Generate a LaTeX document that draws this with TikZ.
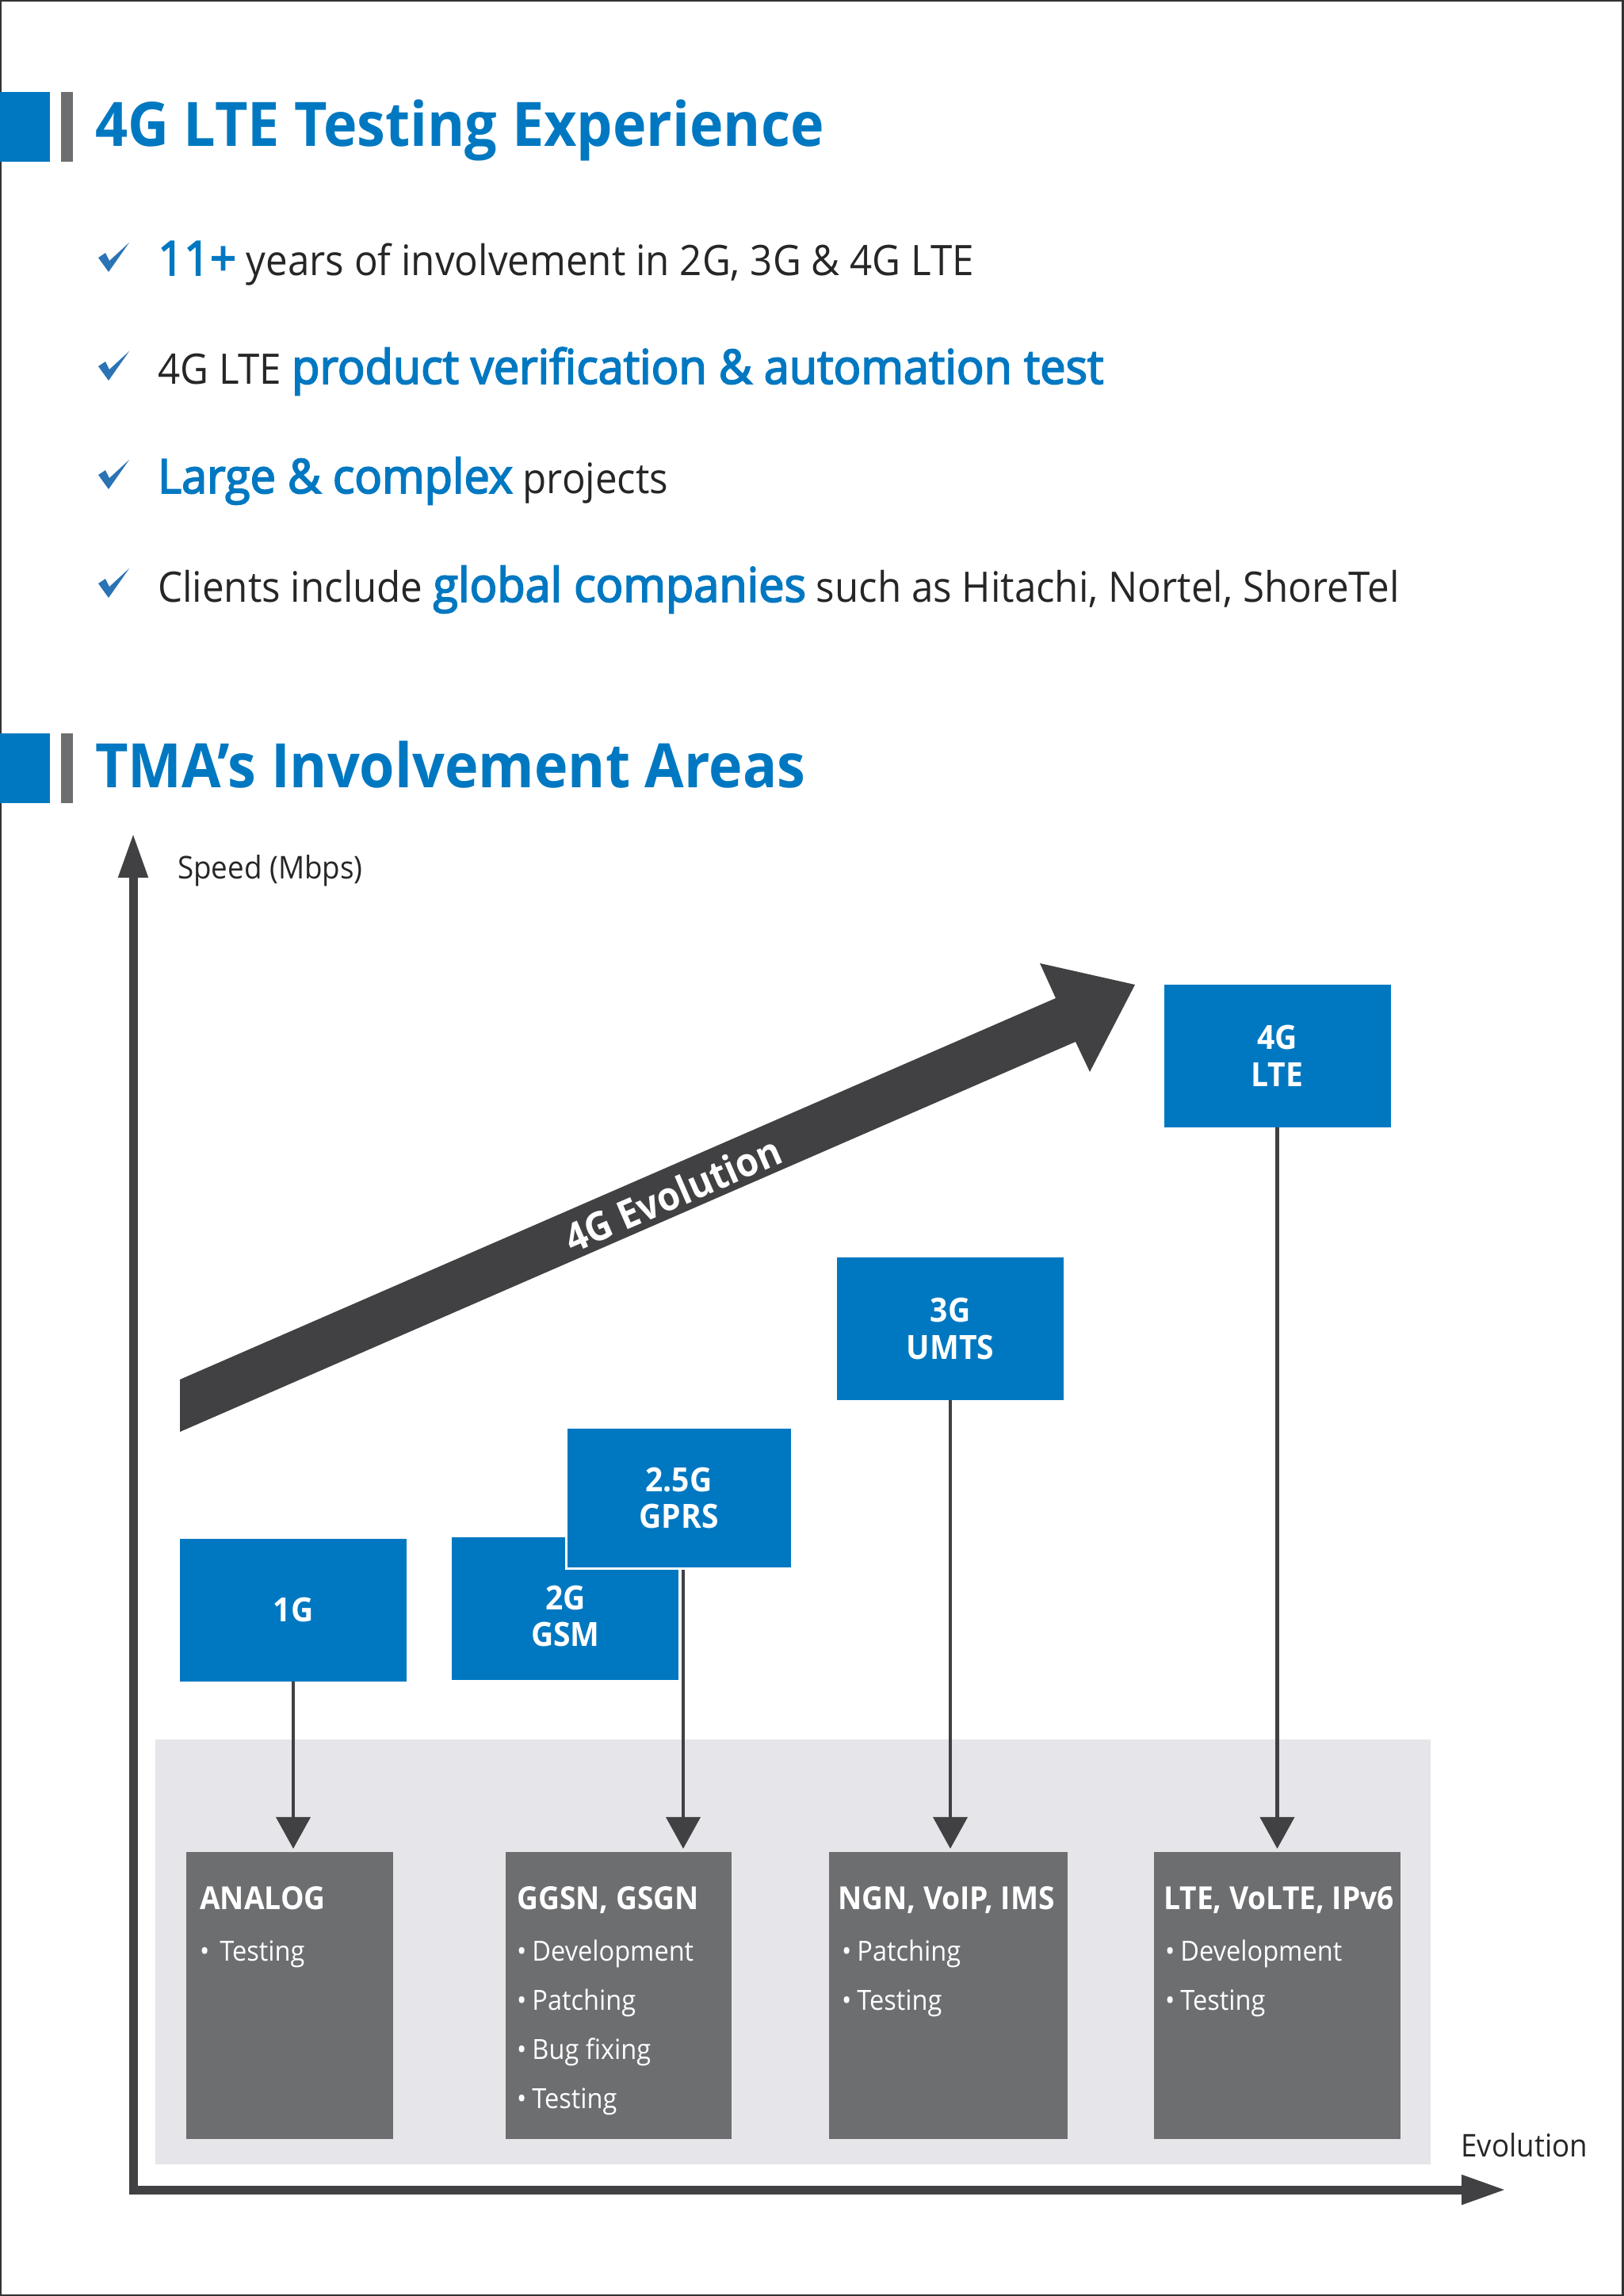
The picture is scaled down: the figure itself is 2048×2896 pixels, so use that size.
\documentclass[tikz,border=0pt]{standalone}
\usepackage{fontspec}
\setmainfont{Open Sans}[FakeStretch=0.93]
\newfontfamily\semifont{Open Sans}[FakeStretch=0.96,FakeBold=3]
\usetikzlibrary{arrows.meta,positioning}
\definecolor{tmablue}{HTML}{0078C1}
\definecolor{tmagray}{HTML}{6D6E70}
\definecolor{tmadark}{HTML}{414042}
\definecolor{tmapale}{HTML}{E6E5E9}
\definecolor{tmatick}{HTML}{2A73B5}
\newcommand{\hl}[1]{{\color{tmablue}\fontsize{60}{60}\selectfont\semifont #1}}
\tikzset{
   title/.style={anchor=base west,inner sep=0pt,text=tmablue,font=\fontsize{77.3}{77.3}\selectfont\bfseries},
   line/.style={anchor=base west,inner sep=0pt,text=black!85,font=\fontsize{53}{53}\selectfont},
   axislabel/.style={anchor=base west,inner sep=0pt,text=black!85,font=\fontsize{39.5}{39.5}\selectfont},
   bluebox/.style={rectangle,fill=tmablue,inner sep=0pt,minimum width=286pt,minimum height=180pt,text=white,align=center,font=\fontsize{42}{46.5}\selectfont\bfseries},
   lowbox/.style={rectangle,fill=tmagray,inner sep=0pt,minimum height=362pt},
   head/.style={anchor=base west,inner sep=0pt,text=white,font=\fontsize{40}{40}\selectfont\bfseries},
   item/.style={anchor=base west,inner sep=0pt,text=white,font=\fontsize{35}{35}\selectfont},
   conn/.style={draw=tmadark,line width=4.5pt,-{Triangle[length=40pt,width=43pt]},shorten >=4pt},
   axis/.style={draw=tmadark,line width=11pt,{Triangle[length=56pt,width=35pt]}-{Triangle[length=56pt,width=35pt]}}
}
\begin{document}
\begin{tikzpicture}
   [x=1pt,y=-1pt]
   \useasboundingbox (0,0) rectangle (2048,2896);
   \fill[white] (0,0) rectangle (2048,2896);
   \draw[line width=4pt,color=black!80] (0,0) rectangle (2048,2896);
   \fill[tmablue] (0,116) rectangle (63,204);
   \fill[tmagray] (77,116) rectangle (92,204);
   \fill[tmablue] (0,925) rectangle (63,1013);
   \fill[tmagray] (77,925) rectangle (92,1013);
   \node[title] (t1) at (120,184) {4G LTE Testing Experience};
   \node[title] (t2) at (120,993) {TMA’s Involvement Areas};
   \foreach \y in {0,137,274,411}
      \fill[tmatick,yshift=-\y pt] (124,325) -- (133,319) -- (138,329) -- (163,306) -- (137,343) -- cycle;
   \node[line] (l1) at (199,347) {\hl{11+} years of involvement in 2G, 3G \& 4G LTE};
   \node[line] (l2) at (199,484) {4G LTE \hl{product verification \& automation test}};
   \node[line] (l3) at (199,622) {\hl{Large \& complex} projects};
   \node[line] (l4) at (199,759) {Clients include \hl{global companies} such as Hitachi, Nortel, ShoreTel};
   \fill[tmapale] (196,2194) rectangle (1805,2730);
   \coordinate (origin) at (168,2762);
   \coordinate (ytip) at (168,1051);
   \coordinate (xtip) at (1900,2762);
   \draw[axis] (ytip) -- (origin) -- (xtip);
   \node[axislabel] (speed) at (224,1108) {Speed (Mbps)};
   \node[axislabel] (evol) at (1843,2720) {Evolution};
   \fill[tmadark] (227,1740) -- (1332,1259) -- (1312,1215) -- (1432,1242) -- (1375,1352) -- (1357,1314) -- (227,1806) -- cycle;
   \node[rotate=23.5,inner sep=0pt,text=white,font=\fontsize{50}{50}\selectfont\bfseries] (evo) at (849,1506) {4G Evolution};
   \node[bluebox] (n1g) at (370,2030.5) {1G};
   \node[bluebox,right=57pt of n1g,yshift=2pt] (n2g) {\rule{0pt}{50pt}2G\\GSM};
   \node[bluebox,draw=white,line width=3pt,minimum width=285pt,minimum height=178pt] (n25g) at (856.5,1889.5) {2.5G\\GPRS};
   \node[bluebox] (n3g) at (1199,1676) {3G\\UMTS};
   \node[bluebox] (n4g) at (1611.5,1332) {4G\\LTE};
   \node[lowbox,minimum width=261pt] (analog) at (365.5,2517) {};
   \node[lowbox,minimum width=285pt,right=142pt of analog] (ggsn) {};
   \node[lowbox,minimum width=301pt,right=122pt of ggsn] (ngn) {};
   \node[lowbox,minimum width=311pt,right=109pt of ngn] (lte) {};
   \coordinate (c25) at (862,1980);
   \draw[conn] (n1g.south) -- (n1g.south |- analog.north);
   \draw[conn] (c25) -- (c25 |- ggsn.north);
   \draw[conn] (n3g.south) -- (n3g.south |- ngn.north);
   \draw[conn] (n4g.south) -- (n4g.south |- lte.north);
   \node[head] (h1) at (252,2408) {ANALOG};
   \node[head] (h2) at (652,2408) {GGSN, GSGN};
   \node[head] (h3) at (1057,2408) {NGN, VoIP, IMS};
   \node[head] (h4) at (1468,2408) {LTE, VoLTE, IPv6};
   \node[item] (a1) at (252,2473) {•\hspace{13pt}Testing};
   \node[item] (b1) at (652,2473) {•\hspace{7pt}Development};
   \node[item] (b2) at (652,2535) {•\hspace{7pt}Patching};
   \node[item] (b3) at (652,2597) {•\hspace{7pt}Bug fixing};
   \node[item] (b4) at (652,2659) {•\hspace{7pt}Testing};
   \node[item] (c1) at (1062,2473) {•\hspace{7pt}Patching};
   \node[item] (c2) at (1062,2535) {•\hspace{7pt}Testing};
   \node[item] (d1) at (1470,2473) {•\hspace{7pt}Development};
   \node[item] (d2) at (1470,2535) {•\hspace{7pt}Testing};
\end{tikzpicture}
\end{document}
